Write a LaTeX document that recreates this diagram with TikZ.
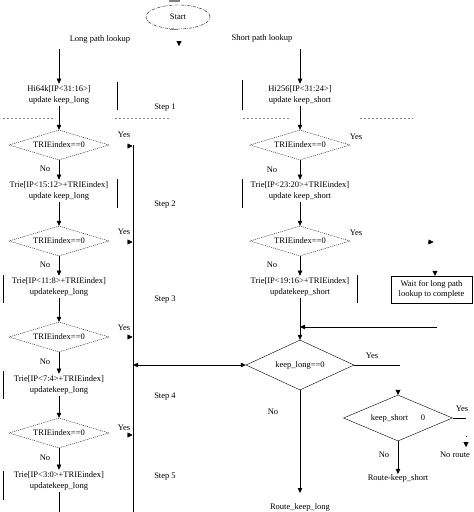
\documentclass[tikz,border=0pt]{standalone}
\usepackage{fontspec}
\setmainfont{Liberation Serif}
\usetikzlibrary{positioning, arrows.meta, shapes.geometric}

\begin{document}
\begin{tikzpicture}[x=1pt, y=-1pt, font=\fontsize{8.5}{10.5}\selectfont,
    arr/.style={-{Triangle[width=4.5pt,length=5pt]}},
    head/.style={-{Triangle[width=5pt,length=5pt]}},
    box/.style={align=center, inner xsep=1pt, inner ysep=2pt},
    test/.style={diamond, draw, dash pattern=on 1pt off 1pt, inner sep=0pt,
                 aspect=3.3, minimum width=100pt, minimum height=30pt},
    lbl/.style={inner sep=0pt}]
    \useasboundingbox (0,0) rectangle (474,512);

    % Start
    \node[ellipse, draw, dash pattern=on 3pt off 1.2pt on 0.6pt off 1.2pt,
          minimum width=64pt, minimum height=24pt, inner sep=0pt] (start) at (178,17) {Start};
    \draw[gray, line width=1.5pt] (169,0.8) -- (180,0.8);
    \draw[gray, line width=1pt] (170,29.5) -- (178,29.5);
    \draw[head] (179,41) -- (179,46);

    % Column titles
    \node[lbl] (longlbl) at (100,39) {Long path lookup};
    \node[lbl] (shortlbl) at (262,38) {Short path lookup};

    % Long path column
    \coordinate (lin) at (59,49);
    \node[box] (l1) at (59,95) {Hi64k[IP<31:16>]\\update keep\_long};
    \node[test] (ld1) at (59,145) {TRIEindex==0};
    \node[box] (l2) at (59,191) {Trie[IP<15:12>+TRIEindex]\\update keep\_long};
    \node[test] (ld2) at (59,241) {TRIEindex==0};
    \node[box] (l3) at (59,287) {Trie[IP<11:8>+TRIEindex]\\updatekeep\_long};
    \node[test] (ld3) at (59,337) {TRIEindex==0};
    \node[box] (l4) at (59,385) {Trie[IP<7:4>+TRIEindex]\\updatekeep\_long};
    \node[test] (ld4) at (59,433) {TRIEindex==0};
    \node[box] (l5) at (59,481) {Trie[IP<3:0>+TRIEindex]\\updatekeep\_long};
    \coordinate (lend) at (59,512);

    \draw[arr] (lin) -- (l1);
    \draw[arr] (l1) -- (ld1);
    \draw[arr] (ld1) -- (l2);
    \draw[arr] (l2) -- (ld2);
    \draw[arr] (ld2) -- (l3);
    \draw[arr] (l3) -- (ld3);
    \draw[arr] (ld3) -- (l4);
    \draw[arr] (l4) -- (ld4);
    \draw[arr] (ld4) -- (l5);
    \draw (l5) -- (lend);

    % box edges that survive
    \draw (117,82) -- (117,110);
    \draw (117,179) -- (117,208);
    \draw (3,275) -- (3,303);
    \draw (3,371) -- (3,399);
    \draw (3,471) -- (3,500);

    % Yes / No labels, long path
    \node[lbl] (ly1) at (124,135) {Yes};
    \node[lbl] (ly2) at (124,232) {Yes};
    \node[lbl] (ly3) at (124,328) {Yes};
    \node[lbl] (ly4) at (124,428) {Yes};
    \node[lbl] (ln1) at (45,169) {No};
    \node[lbl] (ln2) at (45,265) {No};
    \node[lbl] (ln3) at (45,362) {No};
    \node[lbl] (ln4) at (45,458) {No};

    % Yes collector line
    \coordinate (vtop) at (133,145);
    \coordinate (vbot) at (133,512);
    \coordinate (vjoin) at (133,365);
    \draw (vtop) -- (vbot);
    \draw[head] (127.5,146) -- (132.5,146);
    \draw[head] (127.5,242) -- (132.5,242);
    \draw[head] (127.5,337) -- (132.5,337);
    \draw[head] (127.5,435) -- (132.5,435);

    % Steps
    \node[lbl] (step1) at (165,108) {Step 1};
    \node[lbl] (step2) at (165,205) {Step 2};
    \node[lbl] (step3) at (165,300) {Step 3};
    \node[lbl] (step4) at (165,397) {Step 4};
    \node[lbl] (step5) at (165,477) {Step 5};

    % Dotted separator
    \draw[gray, dash pattern=on 1.5pt off 2.5pt] (3,118) -- (53,118);
    \draw[gray, dash pattern=on 1.5pt off 2.5pt] (115,118) -- (170,118);
    \draw[gray, dash pattern=on 1.5pt off 2.5pt] (243,118) -- (290,118);
    \draw[gray, dash pattern=on 1.5pt off 2.5pt] (360,118) -- (413,118);

    % Short path column
    \coordinate (rin) at (300,49);
    \node[box] (r1) at (300,95) {Hi256[IP<31:24>]\\update keep\_short};
    \node[test] (rd1) at (300,145) {TRIEindex==0};
    \node[box] (r2) at (300,191) {Trie[IP<23:20>+TRIEindex]\\update keep\_short};
    \node[test] (rd2) at (300,241) {TRIEindex==0};
    \node[box] (r3) at (300,287) {Trie[IP<19:16>+TRIEindex]\\updatekeep\_short};
    \node[test, solid, aspect=2.16, minimum width=108pt, minimum height=50pt] (kl) at (300,365) {keep\_long==0};

    \draw[arr] (rin) -- (r1);
    \draw[arr] (r1) -- (rd1);
    \draw[arr] (rd1) -- (r2);
    \draw[arr] (r2) -- (rd2);
    \draw[arr] (rd2) -- (r3);
    \draw[arr] (r3) -- (kl);

    \draw (242,80) -- (242,110);
    \draw (242,179) -- (242,208);
    \draw (357,275) -- (357,303);

    \node[lbl] (ry1) at (356,137) {Yes};
    \node[lbl] (ry2) at (356,233) {Yes};
    \node[lbl] (rn1) at (272,170) {No};
    \node[lbl] (rn2) at (272,265) {No};
    \draw[head] (428,242) -- (433.5,242);

    % Wait box
    \node[draw, align=center, minimum width=81pt, minimum height=27pt, inner sep=1pt] (wait) at (431.5,289.5) {Wait for long path\\lookup to complete};
    \draw[head] (435,271) -- (wait.north -| 435,0);
    \coordinate (wl) at (437,327);
    \coordinate (rj) at (300,327);
    \draw[arr] (wl) -- (rj);

    % keep_long test
    \draw[{Triangle[width=4.5pt,length=5pt]}-{Triangle[width=4.5pt,length=5pt]}] (vjoin) -- (kl.west);
    \coordinate (klr) at (400,365);
    \draw (kl.east) -- (klr);
    \node[lbl] (kly) at (372,356) {Yes};
    \node[lbl] (kln) at (273,412) {No};
    \coordinate (klend) at (300,493);
    \draw[arr] (kl) -- (klend);
    \node[lbl] (rlong) at (300,507) {Route\_keep\_long};

    % keep_short test
    \node[test, solid, aspect=2.37, minimum width=109pt, minimum height=46pt] (ks) at (398,418) {keep\_short\hspace{1.5em}0};
    \draw[head] (398,390) -- (ks.north);
    \coordinate (ksr) at (466,418);
    \draw (ks.east) -- (ksr);
    \node[lbl] (ksy) at (462,409) {Yes};
    \node[lbl] (ksn) at (384,455) {No};
    \node[lbl] (rshort) at (398,478) {Route-keep\_short};
    \draw[arr] (ks) -- (rshort);
    \node[lbl] (noroute) at (455,455) {No route};
    \draw (466,435.5) -- (466,437);
    \draw[head] (466,441.5) -- (466,447);
\end{tikzpicture}
\end{document}
